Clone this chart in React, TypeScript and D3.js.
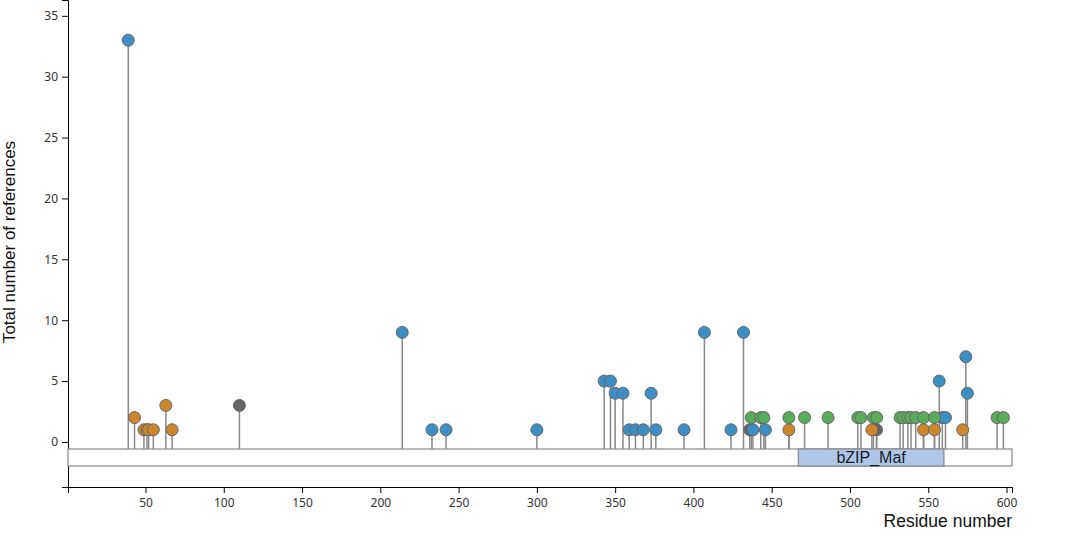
import React from "react";
import * as d3 from "d3";

// Lollipop data: residue position, number of references
const phosphoPos = [39, 214, 233, 242, 300, 343, 347, 350, 355, 359, 363, 368, 373, 376, 394, 407, 424, 432, 438, 446, 557, 559, 561, 574, 575];
const phosphoRefs = [33, 9, 1, 1, 1, 5, 5, 4, 4, 1, 1, 1, 4, 1, 1, 9, 1, 9, 1, 1, 5, 2, 2, 7, 4];

const ubiqPos = [43, 49, 51, 52, 55, 63, 67, 461, 514, 547, 554, 572];
const ubiqRefs = [2, 1, 1, 1, 1, 3, 1, 1, 1, 1, 1, 1];

const otherPos = [110, 436, 517];
const otherRefs = [3, 1, 1];

const acetylPos = [437, 443, 445, 461, 471, 486, 505, 507, 515, 517, 532, 534, 537, 539, 542, 547, 554, 594, 598];
const acetylRefs = [2, 2, 2, 2, 2, 2, 2, 2, 2, 2, 2, 2, 2, 2, 2, 2, 2, 2, 2];

const proteinLength = 603.5;
const domainName = "bZIP_Maf";
const domainStart = 467;
const domainEnd = 560;

const xTicks = [50, 100, 150, 200, 250, 300, 350, 400, 450, 500, 550, 600];
const yTicks = [0, 5, 10, 15, 20, 25, 30, 35];

const series = [
  { pos: otherPos, refs: otherRefs, color: "#666666" },
  { pos: ubiqPos, refs: ubiqRefs, color: "#cd862b" },
  { pos: phosphoPos, refs: phosphoRefs, color: "#3b8fc5" },
  { pos: acetylPos, refs: acetylRefs, color: "#5aab5a" },
];

export default function App() {
  const x = d3.scaleLinear().domain([0.5, proteinLength]).range([68, 1012]);
  const y = d3.scaleLinear().domain([-3.7, 36.3]).range([487, 0]);
  const barTop = 449;
  const barBottom = 466;

  const axisX = (g: SVGGElement | null) => {
    if (!g) return;
    const s = d3.select(g);
    s.selectAll("*").remove();
    s.call(d3.axisBottom(x).tickValues(xTicks).tickSizeOuter(6).tickFormat(d3.format("d")) as any);
    s.select(".domain").attr("stroke", "#000");
    s.selectAll(".tick line").attr("stroke", "#000");
    s.selectAll(".tick text").attr("font-family", "Noto Sans, sans-serif").attr("font-size", 12).attr("fill", "#333").attr("dy", "0.9em");
  };
  const axisY = (g: SVGGElement | null) => {
    if (!g) return;
    const s = d3.select(g);
    s.selectAll("*").remove();
    s.call(d3.axisLeft(y).tickValues(yTicks).tickSizeOuter(6).tickFormat(d3.format("d")) as any);
    s.select(".domain").attr("stroke", "#000");
    s.selectAll(".tick line").attr("stroke", "#000");
    s.selectAll(".tick text").attr("font-family", "Noto Sans, sans-serif").attr("font-size", 12).attr("fill", "#333").attr("x", -10);
  };

  const items: { p: number; v: number; c: string; k: string }[] = [];
  series.forEach((s, si) => s.pos.forEach((p, i) => items.push({ p, v: s.refs[i], c: s.color, k: `${si}-${i}` })));

  return (
    <svg width={1080} height={540} style={{ position: "absolute", left: 0, top: 0, background: "#fff" }}>
      <g ref={axisY} transform={`translate(${x(0.5)},0)`} />
      <g ref={axisX} transform={`translate(0,${y(-3.7)})`} />
      {/* protein bar */}
      <rect x={x(0.5)} y={barTop} width={x(proteinLength) - x(0.5)} height={barBottom - barTop} fill="#fff" stroke="#888" strokeWidth={1.2} />
      <rect x={x(domainStart)} y={barTop} width={x(domainEnd) - x(domainStart)} height={barBottom - barTop} fill="#aec6e8" stroke="#888" strokeWidth={1.2} />
      <text x={(x(domainStart) + x(domainEnd)) / 2} y={barBottom - 3} textAnchor="middle" fontFamily="Liberation Sans, Arial, sans-serif" fontSize={16} fill="#1a1a2a">{domainName}</text>
      {/* stems */}
      {items.map((d) => (
        <line key={"l" + d.k} x1={x(d.p)} x2={x(d.p)} y1={barTop} y2={y(d.v)} stroke="#888" strokeWidth={1.5} />
      ))}
      {items.map((d) => (
        <circle key={"c" + d.k} cx={x(d.p)} cy={y(d.v)} r={6} fill={d.c} stroke="#666" strokeWidth={1} />
      ))}
      <text transform={`translate(15,242) rotate(-90)`} textAnchor="middle" fontFamily="Liberation Sans, Arial, sans-serif" fontSize={17} fill="#111">Total number of references</text>
      <text x={1012} y={527} textAnchor="end" fontFamily="Liberation Sans, Arial, sans-serif" fontSize={17.5} fill="#111">Residue number</text>
    </svg>
  );
}
